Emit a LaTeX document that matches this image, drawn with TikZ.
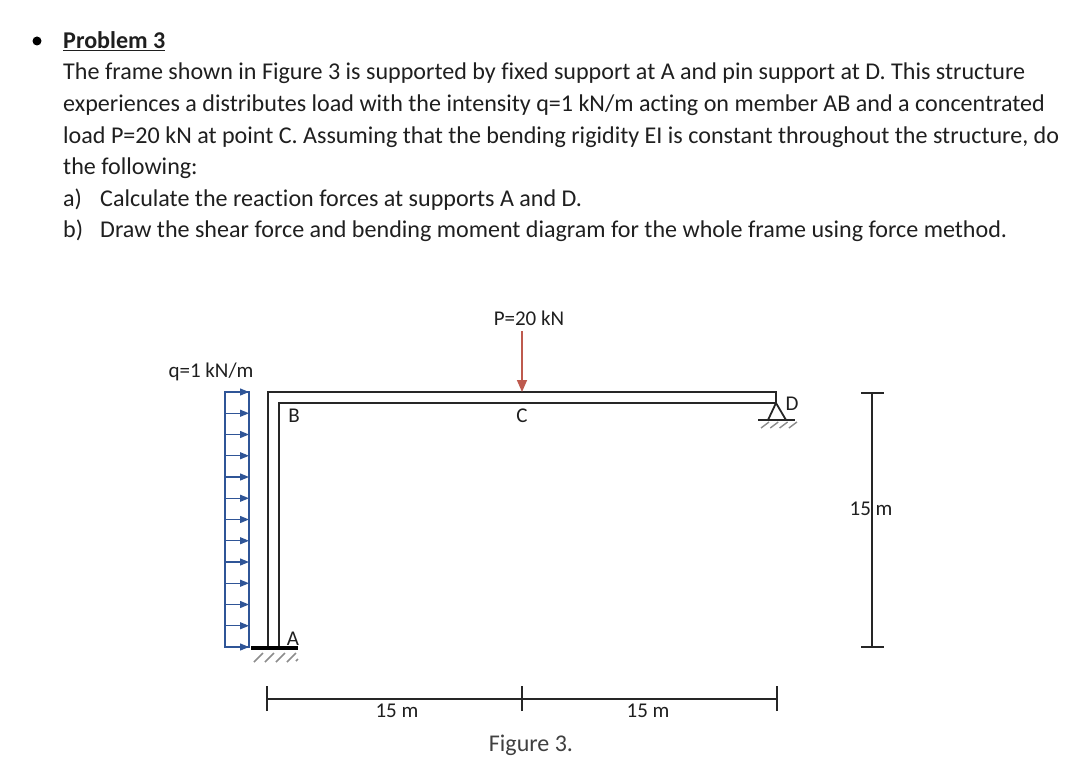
\documentclass[tikz,border=0pt]{standalone}
\usepackage{fontspec}
\setmainfont{Carlito}[Ligatures=NoCommon]
\usetikzlibrary{arrows.meta}
\definecolor{loadblue}{HTML}{2F5597}
\definecolor{loadred}{HTML}{BE5A4E}
\definecolor{hatchgray}{HTML}{8C8C8C}
\tikzset{
	textline/.style={anchor=base west,inner sep=0pt,font=\fontsize{24.08}{28}\selectfont,text=black!88},
	label/.style={inner sep=0pt,font=\fontsize{21}{25}\selectfont,text=black!88},
	frameline/.style={draw=black!85,line width=1.8pt},
	dimline/.style={draw=black!85,line width=1.5pt},
	hatchline/.style={draw=hatchgray,line width=1.6pt},
	qarrow/.style={draw=loadblue,line width=1.2pt,-{Triangle[length=9pt,width=7pt]}},
	parrow/.style={draw=loadred,line width=1.6pt,-{Triangle[length=12pt,width=10pt]}}
}
\begin{document}
\begin{tikzpicture}[x=1pt,y=-1pt]
	\useasboundingbox (0,0) rectangle (1078,770);
	% problem text
	\fill[black] (37,41) circle (4.5) coordinate (bullet);
	\node[textline,font=\fontsize{24.08}{28}\selectfont\bfseries] (title) at (63,49) {\underline{Problem 3}};
	\node[textline] (line1) at (63,80) {The frame shown in Figure 3 is supported by fixed support at A and pin support at D. This structure};
	\node[textline] (line2) at (63,112) {experiences a distributes load with the intensity q=1 kN/m acting on member AB and a concentrated};
	\node[textline] (line3) at (63,144) {load P=20 kN at point C. Assuming that the bending rigidity EI is constant throughout the structure, do};
	\node[textline] (line4) at (63,175) {the following:};
	\node[textline] (line5) at (63,206) {a)};
	\node[textline] (line5b) at (100,206) {Calculate the reaction forces at supports A and D.};
	\node[textline] (line6) at (63,237) {b)};
	\node[textline] (line6b) at (100,237) {Draw the shear force and bending moment diagram for the whole frame using force method.};
	% frame
	\coordinate (Aout) at (268,648);
	\coordinate (Bout) at (268,392);
	\coordinate (Dout) at (776,392);
	\coordinate (D) at (776,403);
	\coordinate (Bin) at (279,403);
	\coordinate (Ain) at (279,648);
	\draw[frameline] (Aout) -- (Bout) -- (Dout) -- (D) -- (Bin) -- (Ain);
	% fixed support
	\coordinate (Al) at (251,648);
	\coordinate (Ar) at (298,648);
	\draw[draw=black,line width=3.4pt] (Al) -- (Ar);
	\foreach \i in {0,1,2,3}{
		\coordinate (ah\i) at (263+\i*11,653);
		\coordinate (al\i) at (254+\i*11,662);
		\draw[hatchline] (ah\i) -- (al\i);
	}
	\coordinate (ah4) at (298,659);
	\coordinate (al4) at (296,661);
	\draw[hatchline] (ah4) -- (al4);
	% pin support
	\coordinate (Dl) at (768,420);
	\coordinate (Dr) at (786,420);
	\coordinate (Gl) at (758,420);
	\coordinate (Gr) at (795,420);
	\draw[frameline] (Dl) -- (D) -- (Dr);
	\draw[frameline] (Gl) -- (Gr);
	\foreach \i in {0,1,2,3}{
		\coordinate (dh\i) at (769+\i*9.3,422);
		\coordinate (dl\i) at (761+\i*9.3,428);
		\draw[hatchline,line width=1.4pt] (dh\i) -- (dl\i);
	}
	% distributed load
	\coordinate (q1) at (225,392);
	\coordinate (q2) at (249,392);
	\coordinate (q3) at (249,647);
	\coordinate (q4) at (225,647);
	\draw[draw=loadblue,line width=1.2pt] (q1) -- (q2) -- (q3) -- (q4) -- cycle;
	\foreach \i in {0,...,12}{
		\coordinate (qs\i) at (225,392+\i*21.25);
		\coordinate (qe\i) at (249,392+\i*21.25);
		\draw[qarrow] (qs\i) -- (qe\i);
	}
	% point load
	\coordinate (Ps) at (522,331);
	\coordinate (C) at (522,392);
	\draw[parrow] (Ps) -- (C);
	% labels
	\node[label] (qlabel) at (211,372) {q=1 kN/m};
	\node[label] (Plabel) at (529,318) {P=20 kN};
	\node[label] (Blabel) at (294,416) {B};
	\node[label] (Clabel) at (522,416) {C};
	\node[label] (Dlabel) at (792,404) {D};
	\node[label] (Alabel) at (293,639) {A};
	% dimensions
	\coordinate (h1) at (267,699);
	\coordinate (h2) at (522,699);
	\coordinate (h3) at (777,699);
	\draw[dimline] (h1) -- (h3);
	\foreach \n in {h1,h2,h3}{
		\draw[dimline] ([yshift=-12pt]\n) -- ([yshift=13pt]\n);
	}
	\node[label] (dim1) at (397,711) {15 m};
	\node[label] (dim2) at (648,711) {15 m};
	\coordinate (v1) at (872,393);
	\coordinate (v2) at (872,647);
	\draw[dimline] (v1) -- (v2);
	\foreach \n in {v1,v2}{
		\draw[dimline] ([xshift=-11pt]\n) -- ([xshift=12pt]\n);
	}
	\node[label] (dim3) at (871,509) {15 m};
	\node[label,font=\fontsize{24}{28}\selectfont,text=black!75] (caption) at (531,745) {Figure 3.};
\end{tikzpicture}
\end{document}
